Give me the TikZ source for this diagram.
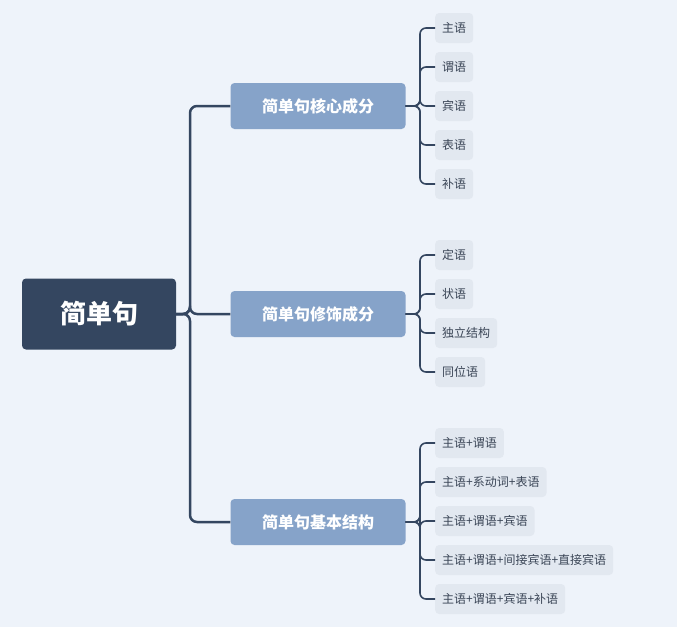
\documentclass[tikz,border=0pt]{standalone}
\usepackage{fontspec}
\setmainfont{Noto Sans CJK SC}
\usetikzlibrary{positioning}
\definecolor{bgblue}{HTML}{EEF3FA}
\definecolor{rootblue}{HTML}{344660}
\definecolor{midblue}{HTML}{86A3C9}
\definecolor{leafgray}{HTML}{E2E8F0}
\definecolor{leaftext}{HTML}{3A4556}
\begin{document}
\begin{tikzpicture}[x=1pt,y=-1pt]

    % Define styles
    \tikzset{
        root box/.style={fill=rootblue, text=white, rounded corners=4pt, minimum width=154pt, minimum height=71pt, font=\fontsize{26}{30}\selectfont\bfseries},
        branch box/.style={fill=midblue, text=white, rounded corners=4pt, minimum width=175pt, minimum height=46pt, font=\fontsize{16}{20}\selectfont\bfseries},
        leaf box/.style={fill=leafgray, text=leaftext, rounded corners=4pt, minimum height=30pt, inner xsep=7pt, font=\fontsize{12}{14}\selectfont, anchor=west},
        link/.style={draw=rootblue, line width=2.5pt, rounded corners=7pt},
        twig/.style={draw=rootblue, line width=1.6pt, rounded corners=6pt}
    }

    % Background
    \fill[bgblue] (0,0) rectangle (677,627);

    % Root and branches
    \node[root box] (root) at (99,314) {简单句};
    \node[branch box] (core) at (318,106) {简单句核心成分};
    \node[branch box] (mod) at (318,314) {简单句修饰成分};
    \node[branch box] (base) at (318,522) {简单句基本结构};

    \foreach \b/\y in {core/106,mod/314,base/522}
        \draw[link] (root.east) -- (190,314) |- (\b.west);

    % Leaves of core
    \foreach \t [count=\i] in {主语,谓语,宾语,表语,补语} {
        \node[leaf box] (core-\i) at (435,28+39*\i-39) {\t};
        \draw[twig] (core.east) -- (420,106) |- (core-\i.west);
    }

    % Leaves of mod
    \foreach \t [count=\i] in {定语,状语,独立结构,同位语} {
        \node[leaf box] (mod-\i) at (435,255+39*\i-39) {\t};
        \draw[twig] (mod.east) -- (420,314) |- (mod-\i.west);
    }

    % Leaves of base
    \foreach \t [count=\i] in {主语+谓语,主语+系动词+表语,主语+谓语+宾语,主语+谓语+间接宾语+直接宾语,主语+谓语+宾语+补语} {
        \node[leaf box] (base-\i) at (435,443+39*\i-39) {\t};
        \draw[twig] (base.east) -- (420,522) |- (base-\i.west);
    }

\end{tikzpicture}
\end{document}
